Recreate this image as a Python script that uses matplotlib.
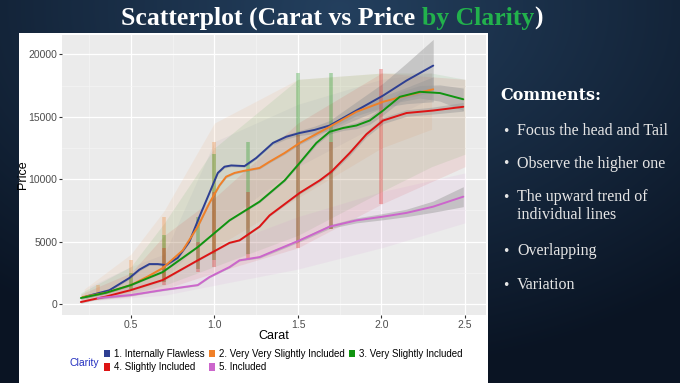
import numpy as np
import matplotlib.pyplot as plt
from matplotlib.patches import Rectangle, Patch

# ---- data (carat, price) ----
clarity = ['1. Internally Flawless', '2. Very Very Slightly Included',
           '3. Very Slightly Included', '4. Slightly Included', '5. Included']
colors = ['#2e3f92', '#f08028', '#109410', '#dd1414', '#cc66cc']

# smoothed trend lines
if_c = [0.23, 0.37, 0.49, 0.55, 0.61, 0.66, 0.71, 0.78, 0.85, 0.91, 0.97, 1.02, 1.06, 1.10, 1.18, 1.25, 1.35, 1.43, 1.51, 1.60, 1.69, 1.85, 2.01, 2.15, 2.31]
if_p = [600, 1100, 2080, 2750, 3200, 3200, 3120, 3700, 5000, 7000, 8900, 10500, 11000, 11100, 11050, 11700, 12900, 13400, 13700, 13950, 14300, 15500, 16700, 17900, 19100]
vvs_c = [0.21, 0.35, 0.5, 0.6, 0.69, 0.81, 0.9, 0.97, 1.03, 1.07, 1.12, 1.17, 1.27, 1.33, 1.42, 1.51, 1.69, 1.85, 2.01, 2.15, 2.31]
vvs_p = [560, 900, 1520, 2200, 2880, 4300, 6200, 8100, 9500, 10200, 10500, 10650, 10900, 11400, 12100, 12900, 14200, 15400, 16200, 16700, 17200]
vs_c = [0.2, 0.35, 0.5, 0.69, 0.9, 1.09, 1.27, 1.42, 1.51, 1.61, 1.69, 1.77, 1.85, 1.93, 2.01, 2.11, 2.23, 2.35, 2.49]
vs_p = [480, 900, 1520, 2560, 4560, 6700, 8200, 9900, 11300, 12900, 13800, 14100, 14300, 14700, 15500, 16600, 17000, 16900, 16400]
si_c = [0.2, 0.35, 0.5, 0.69, 0.9, 1.09, 1.15, 1.27, 1.33, 1.51, 1.63, 1.70, 1.81, 1.91, 2.01, 2.15, 2.31, 2.49]
si_p = [160, 600, 1120, 1920, 3500, 4900, 5100, 6200, 7100, 8900, 9900, 10600, 12100, 13600, 14700, 15300, 15500, 15800]
i1_c = [0.3, 0.5, 0.69, 0.9, 0.97, 1.09, 1.15, 1.27, 1.33, 1.51, 1.69, 1.85, 2.01, 2.15, 2.31, 2.49]
i1_p = [480, 720, 1120, 1520, 2160, 2960, 3500, 3760, 4100, 5100, 6200, 6700, 7000, 7300, 7800, 8600]

# confidence ribbon half widths (same points as the lines)
if_ci = [150, 100, 100, 100, 100, 100, 100, 100, 100, 100, 100, 100, 100, 100, 100, 100, 150, 180, 200, 300, 400, 700, 1000, 1400, 2100]
vvs_ci = [100, 80, 80, 80, 80, 80, 80, 80, 80, 80, 80, 80, 80, 80, 100, 120, 200, 300, 450, 650, 1000]
vs_ci = [100, 80, 60, 60, 60, 60, 80, 100, 120, 150, 180, 200, 250, 300, 350, 400, 500, 650, 900]
si_ci = [100, 60, 60, 60, 60, 60, 60, 60, 80, 100, 120, 150, 200, 220, 250, 260, 280, 350]
i1_ci = [100, 60, 60, 60, 60, 60, 60, 80, 100, 120, 150, 200, 250, 300, 450, 800]

# point clouds: rough envelope of the scattered points per clarity
if_cloud_c = [0.25, 0.5, 0.7, 1.0, 1.5, 2.0, 2.3]
if_cloud_lo = [500, 1200, 2000, 6000, 11000, 14500, 16500]
if_cloud_hi = [1400, 3000, 4000, 13000, 16000, 18000, 18500]
vvs_cloud_c = [0.22, 0.5, 0.7, 1.0, 1.5, 2.0, 2.3]
vvs_cloud_lo = [300, 900, 1800, 4500, 8500, 12500, 14000]
vvs_cloud_hi = [1200, 4000, 7500, 14500, 18000, 18500, 18500]
vs_cloud_c = [0.2, 0.5, 0.7, 1.0, 1.5, 2.0, 2.3, 2.5]
vs_cloud_lo = [300, 800, 1500, 3000, 5500, 9000, 11000, 12000]
vs_cloud_hi = [900, 3000, 6500, 12500, 18000, 18500, 18500, 18000]
si_cloud_c = [0.2, 0.5, 0.7, 1.0, 1.5, 2.0, 2.5]
si_cloud_lo = [200, 600, 1200, 2500, 4500, 8000, 11000]
si_cloud_hi = [800, 2500, 5500, 8500, 14500, 18500, 18000]
i1_cloud_c = [0.3, 0.7, 1.0, 1.5, 2.0, 2.5]
i1_cloud_lo = [300, 700, 1500, 2800, 4500, 6500]
i1_cloud_hi = [900, 2000, 4500, 7000, 9000, 10500]

# dense vertical stripes at popular carat weights
stripe_c = [0.3, 0.5, 0.5, 0.7, 0.7, 0.7, 0.9, 0.9, 1.0, 1.0, 1.0, 1.2, 1.2, 1.5, 1.5, 1.7, 1.7, 2.0]
stripe_lo = [800, 1200, 1200, 2000, 1800, 1500, 2800, 2600, 4000, 3500, 3000, 4000, 3500, 5000, 4500, 6000, 6000, 8000]
stripe_hi = [1500, 3500, 2500, 7000, 5500, 4500, 7000, 5000, 13000, 12000, 9000, 13000, 9000, 18500, 13500, 18500, 13000, 18800]
stripe_k = [1, 1, 2, 1, 2, 3, 2, 3, 1, 2, 3, 2, 3, 2, 3, 2, 3, 3]

lines = [(if_c, if_p, if_ci), (vvs_c, vvs_p, vvs_ci), (vs_c, vs_p, vs_ci),
         (si_c, si_p, si_ci), (i1_c, i1_p, i1_ci)]
clouds = [(if_cloud_c, if_cloud_lo, if_cloud_hi), (vvs_cloud_c, vvs_cloud_lo, vvs_cloud_hi),
          (vs_cloud_c, vs_cloud_lo, vs_cloud_hi), (si_cloud_c, si_cloud_lo, si_cloud_hi),
          (i1_cloud_c, i1_cloud_lo, i1_cloud_hi)]
cloud_alpha = [0.05, 0.08, 0.08, 0.09, 0.08]

comments = ['Focus the head and Tail', 'Observe the higher one',
            'The upward trend of\nindividual lines', 'Overlapping', 'Variation']
comment_y = [131, 164, 206, 251, 285]

W, H = 680, 383
fig = plt.figure(figsize=(6.8, 3.83), dpi=100)

# slide background
bg = fig.add_axes([0, 0, 1, 1], zorder=0)
yy, xx = np.mgrid[0:1:H * 1j, 0:1:W * 1j]
t = np.clip(np.sqrt(((xx - 0.5) * 1.2) ** 2 + (yy - 0.02) ** 2) / 0.95, 0, 1)
c_in = np.array([0.14, 0.25, 0.37])
c_out = np.array([0.04, 0.08, 0.14])
bg.imshow(c_in * (1 - t[..., None]) + c_out * t[..., None], extent=[0, 1, 0, 1],
          origin='upper', aspect='auto')
bg.axis('off')

# white chart panel
fig.add_artist(Rectangle((19 / W, 0), 469 / W, 350 / H, transform=fig.transFigure,
                         facecolor='white', edgecolor='none', zorder=0.5))

ax = fig.add_axes([62 / W, 68 / H, 424 / W, 280 / H], zorder=1)
ax.set_facecolor('#EBEBEB')
for s in ax.spines.values():
    s.set_visible(False)
ax.set_xlim(0.087, 2.626)
ax.set_ylim(-880, 21550)
ax.set_xticks([0.5, 1.0, 1.5, 2.0, 2.5])
ax.set_xticks([0.25, 0.75, 1.25, 1.75, 2.25], minor=True)
ax.set_yticks([0, 5000, 10000, 15000, 20000])
ax.set_yticks([2500, 7500, 12500, 17500], minor=True)
ax.grid(True, which='major', color='white', lw=0.9)
ax.grid(True, which='minor', color='#F5F5F5', lw=0.5)
ax.set_axisbelow(True)
ax.tick_params(which='major', length=2, color='#333333', labelsize=7.5,
               labelcolor='#4D4D4D', pad=1.5, labelfontfamily='Liberation Sans')
ax.tick_params(which='minor', length=0)

for (cc, lo, hi), col, a in zip(clouds, colors, cloud_alpha):
    ax.fill_between(cc, lo, hi, color=col, alpha=a, lw=0)
for x, lo, hi, k in zip(stripe_c, stripe_lo, stripe_hi, stripe_k):
    ax.vlines(x, lo, hi, colors=colors[k], lw=2.6, alpha=0.3)

for (cc, pp, ci), col in zip(lines, colors):
    pp = np.array(pp)
    ci = np.array(ci)
    ax.fill_between(cc, pp - ci, pp + ci, color='#999999', alpha=0.45, lw=0)
for (cc, pp, ci), col in zip(lines, colors):
    ax.plot(cc, pp, color=col, lw=1.4, solid_capstyle='round', solid_joinstyle='round')

ax.set_xlabel('Carat', fontsize=9, labelpad=0, family='Liberation Sans')
ax.set_ylabel('Price', fontsize=9, family='Liberation Sans')
ax.yaxis.set_label_coords((29 - 62) / 424, 0.5)

# legend (row-wise like ggplot)
order = [0, 3, 1, 4, 2]
handles = [Patch(facecolor=colors[i], edgecolor='none') for i in order]
fig.legend(handles, [clarity[i] for i in order], ncol=3, loc='upper left',
           bbox_to_anchor=(99 / W, 1 - 344 / H), frameon=False,
           prop={'family': 'Liberation Sans', 'size': 7}, handlelength=0.6,
           handleheight=0.8, handletextpad=0.4, columnspacing=0.5,
           labelspacing=0.35, borderpad=0)
fig.text(69 / W, 1 - 363 / H, 'Clarity', color='#2430c0', fontsize=7.5,
         family='Liberation Sans', va='center')

# title, with the coloured part
r = fig.canvas.get_renderer()
parts = [('Scatterplot (Carat vs Price ', 'white'), ('by Clarity', '#22b14c'), (')', 'white')]
tf = dict(fontsize=18.5, fontweight='bold', family='Liberation Serif', va='center')
texts = [fig.text(0, 1 - 18 / H, s, color=c, **tf) for s, c in parts]
widths = [tx.get_window_extent(r).width for tx in texts]
x0 = 332 - sum(widths) / 2
for tx, w in zip(texts, widths):
    tx.set_x(x0 / W)
    x0 += w

# comments column
fig.text(500 / W, 1 - 95 / H, 'Comments:', color='white', fontsize=11.5,
         fontweight='bold', family='DejaVu Serif', va='center')
for s, y in zip(comments, comment_y):
    fig.text(502 / W, 1 - (y if '\n' not in s else y - 9) / H, '\u2022', color='#e6e6e6',
             fontsize=9, va='center')
    fig.text(517 / W, 1 - y / H, s, color='#e6e6e6', fontsize=11.5,
             family='Liberation Serif', va='center', linespacing=1.1)

fig.savefig('out.png', dpi=100)
